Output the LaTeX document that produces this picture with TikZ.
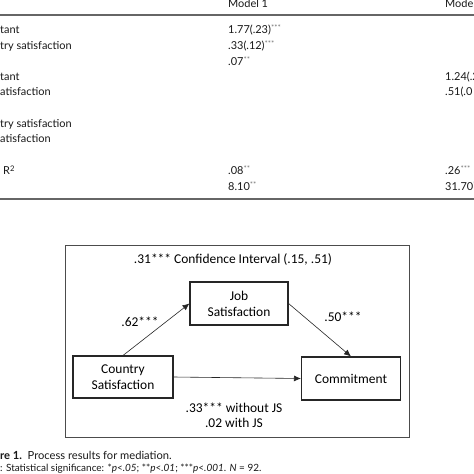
\documentclass[tikz,border=0pt]{standalone}
\usepackage{fontspec}
\setmainfont{Lato}
\newfontfamily\calfont{Carlito}
\usetikzlibrary{arrows.meta}
\tikzset{
  tabtext/.style={anchor=base west, inner sep=0pt, font=\fontsize{11}{13}\selectfont, text=black!90},
  captext/.style={anchor=base west, inner sep=0pt, font=\fontsize{11.2}{13}\selectfont, text=black!90},
  notetext/.style={anchor=base west, inner sep=0pt, font=\fontsize{10}{12}\selectfont, text=black!90},
  varbox/.style={draw=black!85, line width=1.1pt, minimum width=#1, inner sep=0pt, align=center, font=\calfont\fontsize{13.5}{16}\selectfont},
  labtext/.style={inner sep=0pt, align=center, font=\calfont\fontsize{13.5}{15.5}\selectfont},
  conn/.style={draw=black!85, line width=0.6pt, -{Latex[length=7pt,width=6pt]}},
  hrule/.style={draw=black!60, line width=1.3pt}
}
\newcommand{\sig}[1]{\textsuperscript{\color{black!55}#1}}
\begin{document}
\begin{tikzpicture}[x=1bp,y=-1bp]
\useasboundingbox (0,0) rectangle (474,474);
\fill[white] (0,0) rectangle (474,474);
% table
\coordinate (r1a) at (0,15);
\coordinate (r1b) at (474,15);
\coordinate (r2a) at (0,199);
\coordinate (r2b) at (474,199);
\draw[hrule] (r1a) -- (r1b);
\draw[hrule] (r2a) -- (r2b);
\node[tabtext] (h1) at (228,8) {Model 1};
\node[tabtext] (h2) at (445,8) {Model};
\node[tabtext] (l1) at (0,34) {tant};
\node[tabtext] (l2) at (0,50) {try satisfaction};
\node[tabtext] (l4) at (0,81) {tant};
\node[tabtext] (l5) at (0,96) {atisfaction};
\node[tabtext] (l6) at (0,128) {try satisfaction};
\node[tabtext] (l7) at (0,143) {atisfaction};
\node[tabtext] (l8) at (3,175) {R\textsuperscript{2}};
\node[tabtext] (a1) at (228,34) {1.77(.23)\sig{***}};
\node[tabtext] (a2) at (228,50) {.33(.12)\sig{***}};
\node[tabtext] (a3) at (228,66) {.07\sig{**}};
\node[tabtext] (a8) at (228,175) {.08\sig{**}};
\node[tabtext] (a9) at (228,191) {8.10\sig{**}};
\node[tabtext] (b4) at (445,81) {1.24(.2};
\node[tabtext] (b5) at (445,96) {.51(.0};
\node[tabtext] (b8) at (445,175) {.26\sig{***}};
\node[tabtext] (b9) at (445,191) {31.70\sig{*}};
% diagram
\node[draw=black!70, line width=0.9pt, minimum width=344bp, minimum height=192bp, inner sep=0pt] (frame) at (237,341) {};
\node[labtext] (ci) at (233,260) {.31*** Confidence Interval (.15, .51)};
\node[varbox=98bp, minimum height=43bp] (job) at (239,303.5) {Job\\Satisfaction};
\node[varbox=100bp, minimum height=42bp] (cs) at (123,377) {Country\\Satisfaction};
\node[varbox=99bp, minimum height=43bp] (com) at (351,378.5) {Commitment};
\draw[conn] (cs.north) -- (job.west);
\draw[conn] (job.east) -- (com.north);
\draw[conn] (cs.east) -- (com.west);
\node[labtext] (l62) at (140,322) {.62***};
\node[labtext] (l50) at (343,317) {.50***};
\node[labtext] (l33) at (234,415.5) {.33*** without JS\\.02 with JS};
% caption
\node[captext] (fig) at (0,459) {\textbf{re 1.}\ \ Process results for mediation.};
\node[notetext] (nt) at (0,471) {: Statistical significance: *\textit{p}<\textit{.05}; **\textit{p}<\textit{.01}; ***\textit{p}<\textit{.001}. \textit{N} = 92.};
\end{tikzpicture}
\end{document}
